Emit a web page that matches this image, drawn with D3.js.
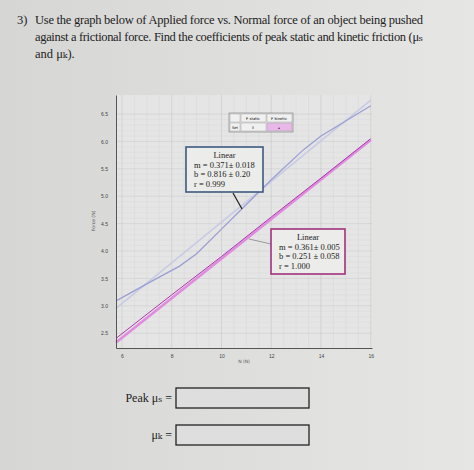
<!DOCTYPE html>
<html><head><meta charset="utf-8">
<script src="https://cdn.jsdelivr.net/npm/d3@7"></script>
<style>body{margin:0;background:#dcdcda}svg{display:block}</style>
</head><body>
<script>
var width = 474, height = 470;

var staticN = [5.8, 7.2, 8.3, 9.0, 10.0, 11.0, 12.0, 13.3, 14.0, 16.0];
var staticF = [3.1, 3.45, 3.72, 3.95, 4.4, 4.85, 5.3, 5.85, 6.1, 6.65];
var kineticN = [5.8, 8.0, 10.0, 12.0, 14.0, 16.0];
var kineticF = [2.42, 3.2, 3.9, 4.62, 5.33, 6.05];
var fitStatic = {m: 0.371, b: 0.816};
var fitKinetic = {m: 0.361, b: 0.251};
var xTicks = [6, 8, 10, 12, 14, 16];
var yTicks = [2.5, 3.0, 3.5, 4.0, 4.5, 5.0, 5.5, 6.0, 6.5];

var svg = d3.select("body").append("svg").attr("width", width).attr("height", height);
var grad = svg.append("defs").append("linearGradient").attr("id", "bg");
grad.append("stop").attr("offset", "0").attr("stop-color", "#d6d6d4");
grad.append("stop").attr("offset", "1").attr("stop-color", "#e6e6e4");
svg.append("rect").attr("width", width).attr("height", height).attr("fill", "url(#bg)");

var serif = "'Liberation Serif', 'DejaVu Serif', serif";
var lines = ["Use the graph below of Applied force vs. Normal force of an object being pushed",
             "against a frictional force.  Find the coefficients of peak static and kinetic friction (\u03bc\u209b",
             "and \u03bc\u2096)."];
svg.append("text").attr("x", 17).attr("y", 24).attr("font-family", serif).attr("font-size", 12.5).attr("fill", "#222").text("3)");
lines.forEach(function(t, i){
  svg.append("text").attr("x", 35).attr("y", 24 + i * 17).attr("font-family", serif)
    .attr("font-size", 12.5).attr("fill", "#222").attr("textLength", i < 2 ? 388 : null).text(t);
});

var x = d3.scaleLinear().domain([5.76, 16.05]).range([116, 372]);
var y = d3.scaleLinear().domain([2.23, 6.5 + 19 / 54.75]).range([348, 95]);

var g = svg.append("g");
g.append("rect").attr("x", 116).attr("y", 95).attr("width", 256).attr("height", 253).attr("fill", "#e4e5e4");
g.selectAll(".mx").data(d3.range(6, 16.01, 0.5)).enter().append("line")
  .attr("x1", function(d){return x(d);}).attr("x2", function(d){return x(d);}).attr("y1", 95).attr("y2", 348)
  .attr("stroke", function(d){return d % 2 === 0 ? "#c0c1c0" : "#d6d7d6";}).attr("stroke-width", 0.5);
g.selectAll(".my").data(d3.range(2.5, 6.51, 0.1)).enter().append("line")
  .attr("y1", function(d){return y(d);}).attr("y2", function(d){return y(d);}).attr("x1", 116).attr("x2", 372)
  .attr("stroke", function(d){return Math.abs(d * 2 - Math.round(d * 2)) < 0.01 ? "#c0c1c0" : "#d8d9d8";}).attr("stroke-width", 0.4);

svg.append("g").attr("transform", "translate(0,348)")
  .call(d3.axisBottom(x).tickValues(xTicks).tickSize(0).tickPadding(6).tickFormat(d3.format("d")))
  .call(function(a){a.select(".domain").attr("stroke", "#555");a.selectAll("text").attr("font-size", 5).attr("fill", "#444");});
svg.append("g").attr("transform", "translate(116,0)")
  .call(d3.axisLeft(y).tickValues(yTicks).tickSize(0).tickPadding(8).tickFormat(d3.format(".1f")))
  .call(function(a){a.select(".domain").attr("stroke", "#555");a.selectAll("text").attr("font-size", 5).attr("fill", "#444");});
svg.append("text").attr("x", 244).attr("y", 363).attr("text-anchor", "middle").attr("font-size", 4.5).attr("fill", "#555").attr("font-family", "DejaVu Sans").text("N (N)");
svg.append("text").attr("transform", "translate(95,221) rotate(-90)").attr("text-anchor", "middle").attr("font-size", 4.5).attr("fill", "#555").attr("font-family", "DejaVu Sans").text("Force (N)");

var fitLine = function(f){return [[x.domain()[0], f.m * x.domain()[0] + f.b], [16, f.m * 16 + f.b]];};
var ln = d3.line().x(function(d){return x(d[0]);}).y(function(d){return y(d[1]);});
g.append("path").attr("d", ln(fitLine(fitStatic))).attr("fill", "none").attr("stroke", "#c8cbe4").attr("stroke-width", 1.6);
g.append("path").attr("d", ln(d3.zip(staticN, staticF))).attr("fill", "none").attr("stroke", "#9c9fd4").attr("stroke-width", 1.3);
g.append("path").attr("d", ln(fitLine(fitKinetic))).attr("fill", "none").attr("stroke", "#e08ae0").attr("stroke-width", 2.6);
g.append("path").attr("d", ln(d3.zip(kineticN, kineticF))).attr("fill", "none").attr("stroke", "#a83aa8").attr("stroke-width", 1);

// legend
var lg = svg.append("g").attr("transform", "translate(229,113)").attr("font-family", "DejaVu Sans").attr("font-size", 3.8);
lg.append("rect").attr("width", 64).attr("height", 19).attr("fill", "#e4e4e4").attr("stroke", "#777").attr("stroke-width", 0.6);
[[1,1,10,8],[12,1,25,8],[38,1,25,8],[1,10,10,8],[12,10,25,8],[38,10,25,8]].forEach(function(c, i){
  lg.append("rect").attr("x", c[0]).attr("y", c[1]).attr("width", c[2]).attr("height", c[3])
    .attr("fill", i === 5 ? "#e8b9e8" : "#f0f0f0").attr("stroke", "#999").attr("stroke-width", 0.4);
});
lg.append("text").attr("x", 24).attr("y", 6.5).attr("text-anchor", "middle").text("F static");
lg.append("text").attr("x", 50).attr("y", 6.5).attr("text-anchor", "middle").text("F kinetic");
lg.append("text").attr("x", 6).attr("y", 15.5).attr("text-anchor", "middle").text("Set");
lg.append("text").attr("x", 24).attr("y", 15.5).attr("text-anchor", "middle").attr("fill", "#447").attr("font-weight", "bold").text("I");
lg.append("text").attr("x", 50).attr("y", 15.5).attr("text-anchor", "middle").attr("fill", "#636").text("\u25b4");

function fitBox(x0, y0, w, h, color, txt, lx, ly, tx, ty, lw, lc){
  svg.append("line").attr("x1", lx).attr("y1", ly).attr("x2", tx).attr("y2", ty).attr("stroke", lc).attr("stroke-width", lw);
  svg.append("rect").attr("x", x0).attr("y", y0).attr("width", w).attr("height", h)
    .attr("fill", "#ececea").attr("stroke", color).attr("stroke-width", 1.6);
  txt.forEach(function(t, i){
    svg.append("text").attr("x", i === 0 ? x0 + w / 2 : x0 + 8).attr("y", y0 + 11 + i * 9.5)
      .attr("text-anchor", i === 0 ? "middle" : "start").attr("font-family", serif).attr("font-size", 8.5).attr("fill", "#222").text(t);
  });
}
fitBox(186, 147, 77, 45, "#3d5a80",
  ["Linear", "m = " + fitStatic.m + "\u00b1 0.018", "b = " + fitStatic.b + " \u00b1 0.20", "r = 0.999"],
  233, 193, 242, 209, 1.2, "#222");
fitBox(271, 229, 74, 45, "#a4307e",
  ["Linear", "m = " + fitKinetic.m + "\u00b1 0.005", "b = " + fitKinetic.b + " \u00b1 0.058", "r = 1.000"],
  271, 244, 249, 239, 0.6, "#666");

// answer boxes
svg.append("text").attr("x", 172).attr("y", 402).attr("text-anchor", "end").attr("font-family", serif).attr("font-size", 12).attr("fill", "#222").text("Peak \u03bc\u209b =");
svg.append("text").attr("x", 172).attr("y", 439).attr("text-anchor", "end").attr("font-family", serif).attr("font-size", 12).attr("fill", "#222").text("\u03bc\u2096 =");
[388, 425].forEach(function(yy){
  svg.append("rect").attr("x", 176).attr("y", yy).attr("width", 133).attr("height", 20)
    .attr("fill", "#dedede").attr("stroke", "#222").attr("stroke-width", 1.3);
});
</script>
</body></html>
